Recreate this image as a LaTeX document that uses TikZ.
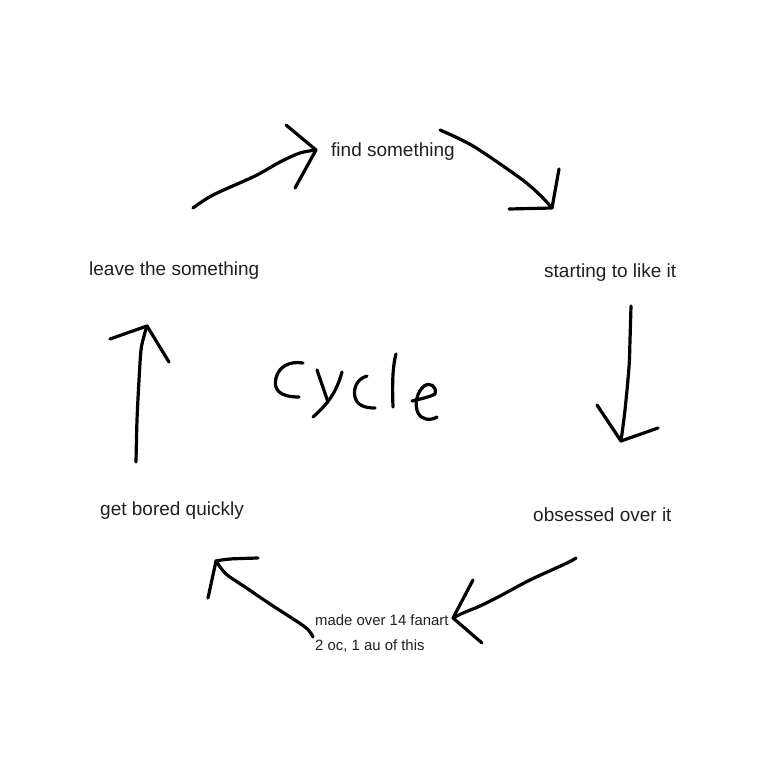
\documentclass[tikz,border=0pt]{standalone}
\usepackage{fontspec}
\setmainfont{Liberation Sans}
\definecolor{txt}{HTML}{202020}
\begin{document}
\begin{tikzpicture}[x=1pt,y=-1pt,
  stroke/.style={line width=3.2pt,line cap=round,line join=round,black},
  lbl/.style={anchor=base west,inner sep=0pt,text=txt,font=\fontsize{19}{22}\selectfont},
  small/.style={anchor=base west,inner sep=0pt,text=txt,font=\fontsize{14.9}{17}\selectfont}]
\useasboundingbox[fill=white] (0,0) rectangle (768,768);
% labels
\node[lbl] (find) at (331,156) {find something};
\node[lbl] (like) at (544,277) {starting to like it};
\node[lbl] (leave) at (89,275) {leave the something};
\node[lbl] (obs) at (533,521) {obsessed over it};
\node[lbl] (bored) at (100,515) {get bored quickly};
\node[small] (made) at (315,625) {made over 14 fanart};
\node[small] (oc) at (315,650) {2 oc, 1 au of this};
% arrow 1 (leave -> find)
\draw[stroke] plot[smooth,tension=0.5] coordinates {(193,208) (213,195) (255,176) (280,162) (300,153) (316,150)};
\draw[stroke] (286,125) -- (316,150) -- (295,188);
% arrow 2 (find -> like)
\draw[stroke] plot[smooth,tension=0.5] coordinates {(440,130) (473,146) (520,178) (540,195) (552,208)};
\draw[stroke] (509,209) -- (552,208) -- (559,169);
% arrow 3 (like -> obsessed)
\draw[stroke] plot[smooth,tension=0.5] coordinates {(631,306) (630,340) (629,367) (625,410) (621,441)};
\draw[stroke] (597,405) -- (621,441) -- (658,428);
% arrow 4 (obsessed -> made)
\draw[stroke] plot[smooth,tension=0.5] coordinates {(576,558) (567,563) (530,580) (500,596) (480,606) (463,613) (453,618)};
\draw[stroke] (473,580) -- (453,618) -- (482,643);
% arrow 5 (made -> bored)
\draw[stroke] plot[smooth,tension=0.5] coordinates {(313,637) (305,627) (270,604) (245,587) (226,574) (216,561)};
\draw[stroke] plot[smooth,tension=0.5] coordinates {(258,558) (230,559) (216,561)};
\draw[stroke] (216,561) -- (208,598);
% arrow 6 (bored -> leave)
\draw[stroke] plot[smooth,tension=0.5] coordinates {(136,462) (137,420) (139,380) (141,350) (144,336) (147,326)};
\draw[stroke] (110,339) -- (147,326) -- (169,362);
% handwritten "cycle"
\draw[stroke] (303,363) .. controls (290,361) and (279,366) .. (276,378) .. controls (273,390) and (280,397) .. (299,397);
\draw[stroke] (317,370) -- (328,402);
\draw[stroke] (342,372) .. controls (337,390) and (330,402) .. (313,417);
\draw[stroke] (367,376) .. controls (357,379) and (353,388) .. (355,397) .. controls (357,405) and (364,408) .. (375,408);
\draw[stroke] (396,354) .. controls (393,365) and (392,380) .. (393,407);
\draw[stroke] (412,401) .. controls (420,399) and (430,397) .. (435,394) .. controls (437,386) and (430,382) .. (424,386) .. controls (417,392) and (414,404) .. (418,413) .. controls (422,420) and (430,421) .. (437,417);
\end{tikzpicture}
\end{document}
